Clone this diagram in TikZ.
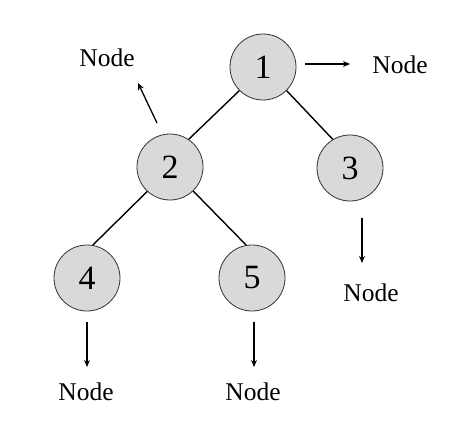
\documentclass[tikz,border=0pt]{standalone}
\usepackage{fontspec}
\setmainfont{Liberation Serif}
\usetikzlibrary{arrows.meta}
\begin{document}
\begin{tikzpicture}[x=1pt,y=-1pt,
  tnode/.style={circle,draw=black!80,line width=0.8pt,fill=black!15,minimum size=66pt,inner sep=0pt,font=\fontsize{34}{36}\selectfont},
  lbl/.style={inner sep=0pt,font=\fontsize{25.5}{27}\selectfont},
  tedge/.style={line width=1.4pt},
  arr/.style={line width=1.3pt,-{Stealth[length=7pt,width=6pt]}}]
\useasboundingbox (0,0) rectangle (474,428);
\node[tnode] (n1) at (263,67) {1};
\node[tnode] (n2) at (170,167) {2};
\node[tnode] (n3) at (350,168) {3};
\node[tnode] (n4) at (87,278) {4};
\node[tnode] (n5) at (252,278) {5};
\draw[tedge] (n1.225) -- (n2.56);
\draw[tedge] (n1.315) -- (n3.121);
\draw[tedge] (n2.227) -- (n4.80);
\draw[tedge] (n2.314) -- (n5.100);
\node[lbl] (t1) at (400,65) {Node};
\node[lbl] (t2) at (107,58) {Node};
\node[lbl] (t3) at (371,293) {Node};
\node[lbl] (t4) at (86,392) {Node};
\node[lbl] (t5) at (253,392) {Node};
\coordinate (s1) at (305,64); \coordinate (e1) at (350,64);
\coordinate (s2) at (157,123); \coordinate (e2) at (138,83);
\coordinate (s3) at (362,218); \coordinate (e3) at (362,263);
\coordinate (s4) at (87,322); \coordinate (e4) at (87,367);
\coordinate (s5) at (254,322); \coordinate (e5) at (254,367);
\draw[arr] (s1) -- (e1);
\draw[arr] (s2) -- (e2);
\draw[arr] (s3) -- (e3);
\draw[arr] (s4) -- (e4);
\draw[arr] (s5) -- (e5);
\end{tikzpicture}
\end{document}
